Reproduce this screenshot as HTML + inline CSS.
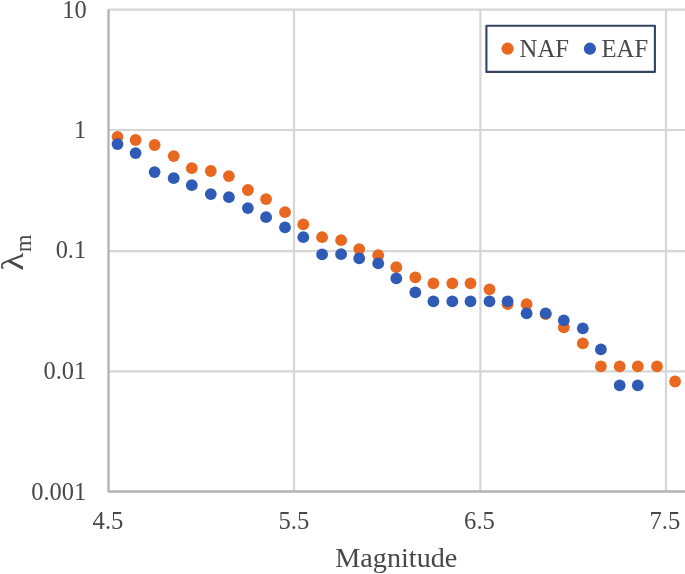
<!DOCTYPE html>
<html><head><meta charset="utf-8"><title>chart</title>
<style>
html,body{margin:0;padding:0;background:#fff;}
body{width:685px;height:574px;overflow:hidden;}
svg{display:block;}
text{font-family:"Liberation Serif","DejaVu Serif",serif;fill:#484848;}
</style></head><body>
<svg width="685" height="574" viewBox="0 0 685 574">
<rect width="685" height="574" fill="#fff"/>
<g>

<line x1="108.3" y1="9.7" x2="695" y2="9.7" stroke="#d6d6d6" stroke-width="2.2"/>
<line x1="108.3" y1="130.0" x2="695" y2="130.0" stroke="#d6d6d6" stroke-width="2.2"/>
<line x1="108.3" y1="251.1" x2="695" y2="251.1" stroke="#d6d6d6" stroke-width="2.2"/>
<line x1="108.3" y1="371.4" x2="695" y2="371.4" stroke="#d6d6d6" stroke-width="2.2"/>
<line x1="294.0" y1="9.7" x2="294.0" y2="491.6" stroke="#d6d6d6" stroke-width="2.2"/>
<line x1="480.4" y1="9.7" x2="480.4" y2="491.6" stroke="#d6d6d6" stroke-width="2.2"/>
<line x1="666.0" y1="9.7" x2="666.0" y2="491.6" stroke="#d6d6d6" stroke-width="2.2"/>
<polyline points="108.5,9.399999999999999 108.5,491.5 695,491.5" fill="none" stroke="#b2b2b2" stroke-width="2.3" stroke-linejoin="round"/>
<circle cx="117.5" cy="136.8" r="5.9" fill="#e8681f"/>
<circle cx="135.6" cy="140.0" r="5.9" fill="#e8681f"/>
<circle cx="154.6" cy="145.0" r="5.9" fill="#e8681f"/>
<circle cx="173.7" cy="156.1" r="5.9" fill="#e8681f"/>
<circle cx="191.8" cy="168.2" r="5.9" fill="#e8681f"/>
<circle cx="210.8" cy="171.0" r="5.9" fill="#e8681f"/>
<circle cx="228.9" cy="176.1" r="5.9" fill="#e8681f"/>
<circle cx="247.9" cy="190.0" r="5.9" fill="#e8681f"/>
<circle cx="266.1" cy="199.1" r="5.9" fill="#e8681f"/>
<circle cx="285.0" cy="212.2" r="5.9" fill="#e8681f"/>
<circle cx="303.3" cy="224.3" r="5.9" fill="#e8681f"/>
<circle cx="322.1" cy="237.2" r="5.9" fill="#e8681f"/>
<circle cx="341.1" cy="240.2" r="5.9" fill="#e8681f"/>
<circle cx="359.2" cy="249.1" r="5.9" fill="#e8681f"/>
<circle cx="378.2" cy="255.2" r="5.9" fill="#e8681f"/>
<circle cx="396.3" cy="267.2" r="5.9" fill="#e8681f"/>
<circle cx="415.3" cy="277.3" r="5.9" fill="#e8681f"/>
<circle cx="433.4" cy="283.3" r="5.9" fill="#e8681f"/>
<circle cx="452.3" cy="283.3" r="5.9" fill="#e8681f"/>
<circle cx="470.5" cy="283.3" r="5.9" fill="#e8681f"/>
<circle cx="489.5" cy="289.3" r="5.9" fill="#e8681f"/>
<circle cx="507.6" cy="304.2" r="5.9" fill="#e8681f"/>
<circle cx="526.6" cy="304.2" r="5.9" fill="#e8681f"/>
<circle cx="545.7" cy="314.2" r="5.9" fill="#e8681f"/>
<circle cx="563.8" cy="327.4" r="5.9" fill="#e8681f"/>
<circle cx="582.8" cy="343.4" r="5.9" fill="#e8681f"/>
<circle cx="600.9" cy="366.4" r="5.9" fill="#e8681f"/>
<circle cx="619.7" cy="366.4" r="5.9" fill="#e8681f"/>
<circle cx="637.8" cy="366.4" r="5.9" fill="#e8681f"/>
<circle cx="657.0" cy="366.4" r="5.9" fill="#e8681f"/>
<circle cx="675.1" cy="381.5" r="5.9" fill="#e8681f"/>
<circle cx="117.5" cy="144.1" r="5.9" fill="#2f5bb7"/>
<circle cx="135.6" cy="153.1" r="5.9" fill="#2f5bb7"/>
<circle cx="154.6" cy="172.1" r="5.9" fill="#2f5bb7"/>
<circle cx="173.7" cy="178.2" r="5.9" fill="#2f5bb7"/>
<circle cx="191.8" cy="185.2" r="5.9" fill="#2f5bb7"/>
<circle cx="210.8" cy="194.1" r="5.9" fill="#2f5bb7"/>
<circle cx="228.9" cy="197.2" r="5.9" fill="#2f5bb7"/>
<circle cx="247.9" cy="208.1" r="5.9" fill="#2f5bb7"/>
<circle cx="266.1" cy="217.2" r="5.9" fill="#2f5bb7"/>
<circle cx="285.0" cy="227.4" r="5.9" fill="#2f5bb7"/>
<circle cx="303.3" cy="237.2" r="5.9" fill="#2f5bb7"/>
<circle cx="322.1" cy="254.4" r="5.9" fill="#2f5bb7"/>
<circle cx="341.1" cy="254.2" r="5.9" fill="#2f5bb7"/>
<circle cx="359.2" cy="258.3" r="5.9" fill="#2f5bb7"/>
<circle cx="378.2" cy="263.4" r="5.9" fill="#2f5bb7"/>
<circle cx="396.3" cy="278.3" r="5.9" fill="#2f5bb7"/>
<circle cx="415.3" cy="292.3" r="5.9" fill="#2f5bb7"/>
<circle cx="433.4" cy="301.3" r="5.9" fill="#2f5bb7"/>
<circle cx="452.3" cy="301.4" r="5.9" fill="#2f5bb7"/>
<circle cx="470.5" cy="301.4" r="5.9" fill="#2f5bb7"/>
<circle cx="489.5" cy="301.4" r="5.9" fill="#2f5bb7"/>
<circle cx="507.6" cy="301.3" r="5.9" fill="#2f5bb7"/>
<circle cx="526.6" cy="313.3" r="5.9" fill="#2f5bb7"/>
<circle cx="545.7" cy="313.3" r="5.9" fill="#2f5bb7"/>
<circle cx="563.8" cy="320.3" r="5.9" fill="#2f5bb7"/>
<circle cx="582.8" cy="328.3" r="5.9" fill="#2f5bb7"/>
<circle cx="600.9" cy="349.4" r="5.9" fill="#2f5bb7"/>
<circle cx="619.7" cy="385.3" r="5.9" fill="#2f5bb7"/>
<circle cx="637.8" cy="385.3" r="5.9" fill="#2f5bb7"/>
<text transform="translate(86.7,18.2) scale(0.958,1)" font-size="25.5" text-anchor="end">10</text>
<text transform="translate(86.3,137.6) scale(0.958,1)" font-size="25.5" text-anchor="end">1</text>
<text transform="translate(86.2,258.4) scale(0.958,1)" font-size="25.5" text-anchor="end">0.1</text>
<text transform="translate(86.2,378.5) scale(0.958,1)" font-size="25.5" text-anchor="end">0.01</text>
<text transform="translate(86.2,500.2) scale(0.958,1)" font-size="25.5" text-anchor="end">0.001</text>
<text transform="translate(108.0,529.4) scale(0.968,1)" font-size="25.5" text-anchor="middle">4.5</text>
<text transform="translate(293.8,529.4) scale(0.968,1)" font-size="25.5" text-anchor="middle">5.5</text>
<text transform="translate(479.5,529.4) scale(0.968,1)" font-size="25.5" text-anchor="middle">6.5</text>
<text transform="translate(664.9,529.4) scale(0.968,1)" font-size="25.5" text-anchor="middle">7.5</text>
<text transform="translate(396.3,567) scale(1.006,1)" font-size="28" text-anchor="middle">Magnitude</text>
<text transform="translate(23.4,270.7) rotate(-90) scale(1.17,1)" font-size="32">λ</text>
<text transform="translate(30.7,252.0) rotate(-90)" font-size="22.5">m</text>
<rect x="486.4" y="25.8" width="168.5" height="46.1" fill="#fff" stroke="#344460" stroke-width="2.1" stroke-linejoin="round"/>
<circle cx="507.6" cy="48.7" r="6.1" fill="#e8681f"/>
<text transform="translate(519.6,57.3) scale(0.968,1)" font-size="25.5">NAF</text>
<circle cx="589.9" cy="48.7" r="6.1" fill="#2f5bb7"/>
<text transform="translate(601.5,57.3) scale(0.968,1)" font-size="25.5">EAF</text>
</g></svg></body></html>
